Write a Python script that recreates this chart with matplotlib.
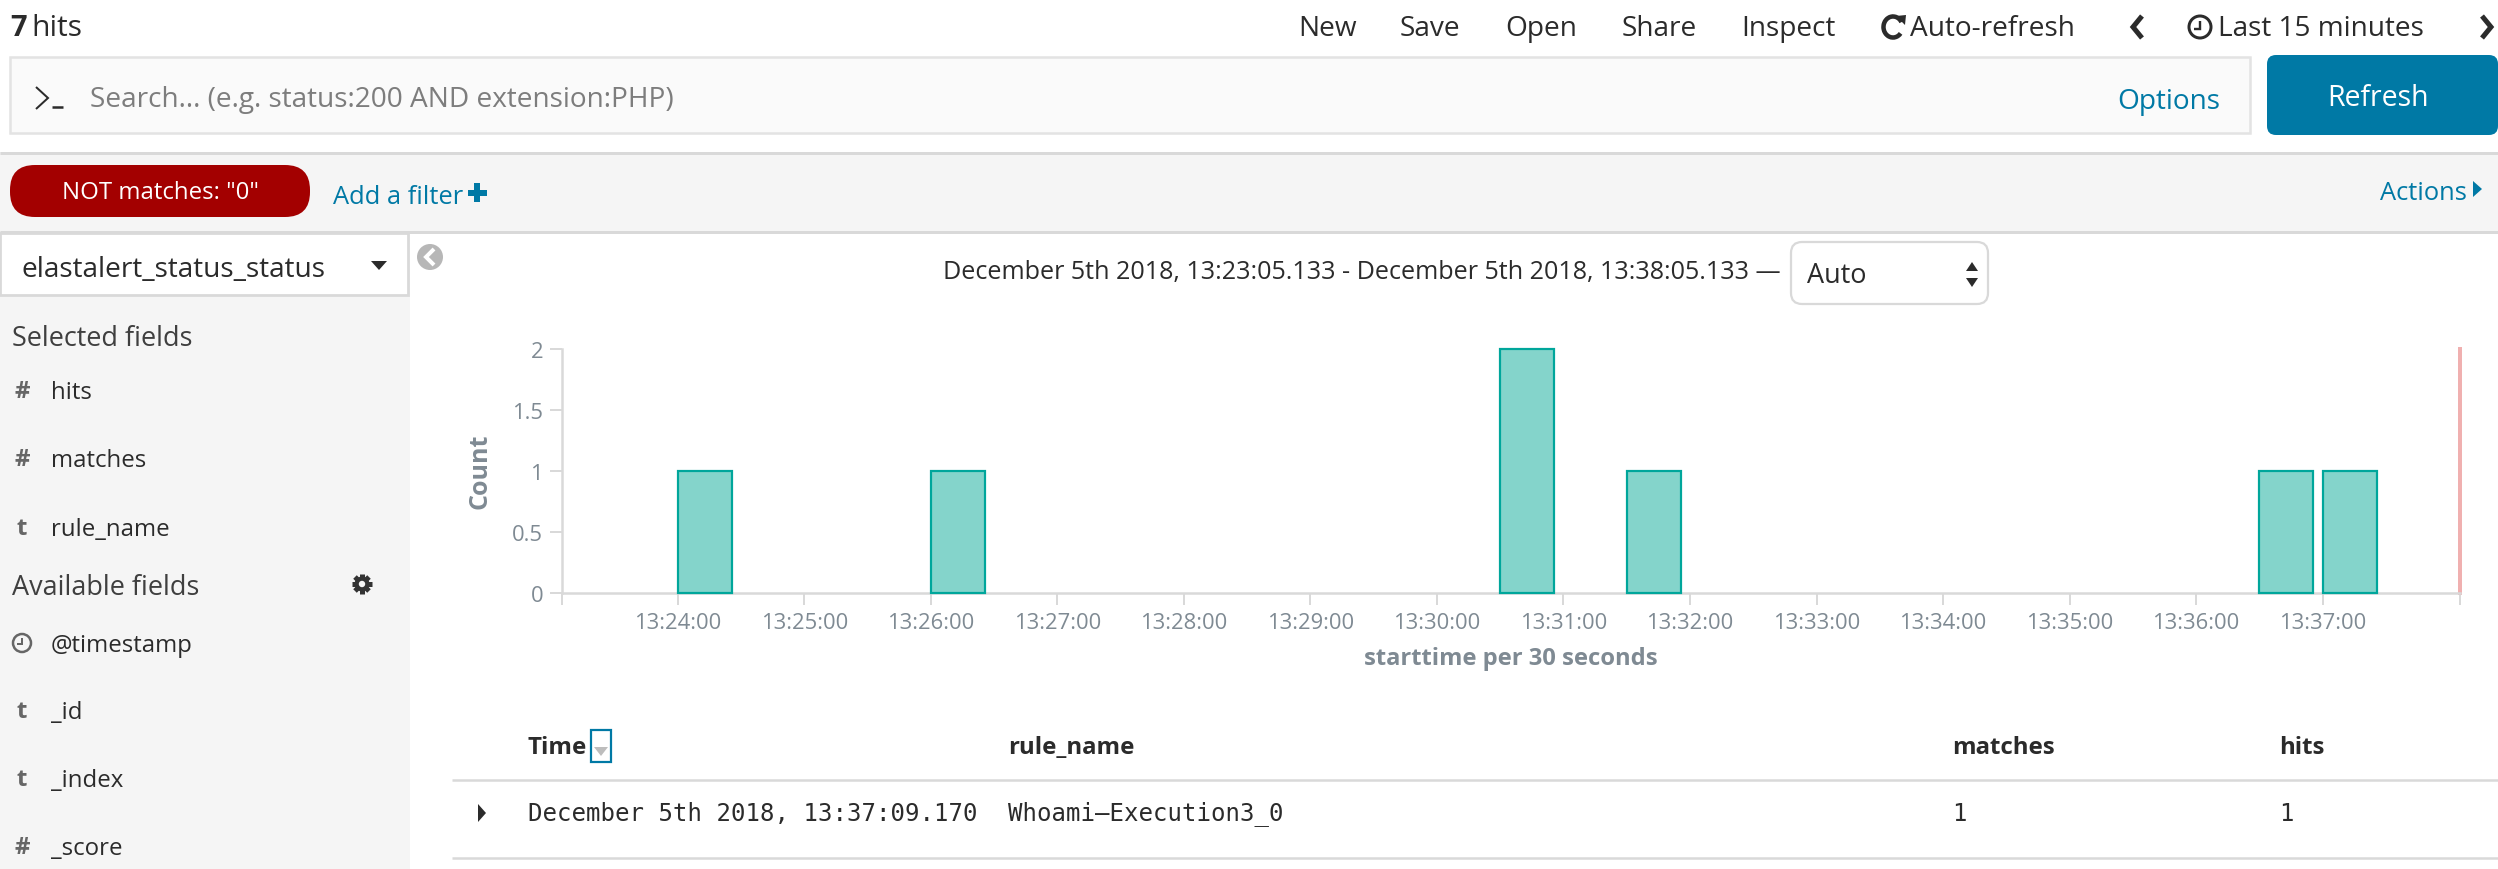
import datetime as dt
import matplotlib
matplotlib.use("Agg")
import matplotlib.pyplot as plt
import matplotlib.dates as mdates
from matplotlib.patches import FancyBboxPatch, Rectangle, Circle, Polygon, Arc
from matplotlib.ticker import FuncFormatter

W, H = 2498, 870
DAY = "2018-12-05 "
bucket_starts = ["13:24:00", "13:26:00", "13:30:30", "13:31:30", "13:36:30", "13:37:00"]
counts = [1, 1, 2, 1, 1, 1]
bar_seconds = 25.6
range_start = "13:23:05.133"
range_end = "13:38:05.133"
minute_ticks = ["13:24:00", "13:25:00", "13:26:00", "13:27:00", "13:28:00", "13:29:00", "13:30:00",
                "13:31:00", "13:32:00", "13:33:00", "13:34:00", "13:35:00", "13:36:00", "13:37:00"]
count_ticks = [0, 0.5, 1, 1.5, 2]
nav_items = ["New", "Save", "Open", "Share", "Inspect"]
selected_fields = ["hits", "matches", "rule_name"]
available_fields = ["@timestamp", "_id", "_index", "_score"]
table_columns = ["Time", "rule_name", "matches", "hits"]
table_row = ["December 5th 2018, 13:37:09.170", "Whoami\u2013Execution3_0", "1", "1"]

def px(v):
    return v * 72 / 100

def when(s):
    fmt = "%Y-%m-%d %H:%M:%S.%f" if "." in s else "%Y-%m-%d %H:%M:%S"
    return dt.datetime.strptime(DAY + s, fmt)

plt.rcParams["font.family"] = ["Open Sans", "DejaVu Sans"]
TEXT = "#2b2b2b"
BLUE = "#0079a5"
GREY = "#7f8a93"
LINE = "#d9d9d9"
MONO = ["DejaVu Sans Mono"]

fig = plt.figure(figsize=(W / 100, H / 100), dpi=100, facecolor="white")
ui = fig.add_axes([0, 0, 1, 1])
ui.set_xlim(0, W)
ui.set_ylim(H, 0)
ui.axis("off")

def t(x, y, s, size=28, color=TEXT, ha="left", weight="normal", family=None, **kw):
    return ui.text(x, y, s, fontsize=px(size), color=color, ha=ha, va="center", weight=weight,
                   family=family if family else plt.rcParams["font.family"], **kw)

def rect(x0, y0, x1, y1, fc, ec="none", lw=0, z=1):
    ui.add_patch(Rectangle((x0, y0), x1 - x0, y1 - y0, facecolor=fc, edgecolor=ec, linewidth=lw, zorder=z))

def round_box(x0, y0, x1, y1, r, fc, ec="none", lw=0, z=2):
    ui.add_patch(FancyBboxPatch((x0 + r, y0 + r), x1 - x0 - 2 * r, y1 - y0 - 2 * r,
                                boxstyle=f"round,pad={r},rounding_size={r}", facecolor=fc, edgecolor=ec,
                                linewidth=lw, zorder=z))

def seg(xs, ys, color, lw, z=3):
    ui.plot(xs, ys, color=color, lw=px(lw), zorder=z, solid_capstyle="butt", solid_joinstyle="miter")

def clock(cx, cy, r, color, lw=3):
    ui.add_patch(Circle((cx, cy), r, facecolor="none", edgecolor=color, linewidth=px(lw), zorder=4))
    seg([cx, cx, cx - r * 0.5], [cy - r * 0.55, cy + r * 0.15, cy + r * 0.15], color, lw * 0.8, z=4)

# top bar
t(10, 29, "7", weight="bold", size=29)
t(31, 29, "hits", size=30)
for x, s in zip([1298, 1400, 1505, 1622, 1741], nav_items):
    t(x, 29, s)
ui.add_patch(Arc((1893, 28), 19, 21, theta1=40, theta2=330, edgecolor=TEXT, linewidth=px(4.5), zorder=4))
ui.add_patch(Polygon([[1896, 17], [1906, 16], [1905, 26]], facecolor=TEXT, zorder=4))
t(1910, 29, "Auto-refresh")
seg([2142, 2133, 2142], [17, 28, 39], TEXT, 5)
clock(2200, 28, 11, TEXT)
t(2218, 29, "Last 15 minutes")
seg([2482, 2491, 2482], [17, 28, 39], TEXT, 5)

# search row
rect(10, 58, 2250, 134, "#fafafa", ec="#e3e3e3", lw=1.8)
seg([36, 48, 36], [88, 99, 110], TEXT, 2)
seg([52, 63], [108, 108], TEXT, 2.5)
t(90, 100, "Search... (e.g. status:200 AND extension:PHP)", color="#7d7d7d")
t(2117, 102, "Options", color=BLUE)
round_box(2267, 56, 2498, 136, 9, BLUE)
t(2378, 99, "Refresh", color="white", ha="center", weight="medium", size=28.5, zorder=5)

# filter row
rect(0, 153, W, 233, "#f5f5f5")
seg([0, W], [154, 154], LINE, 3)
seg([0, W], [233, 233], LINE, 3)
round_box(10, 166, 310, 218, 25, "#a30000")
t(160, 193, 'NOT matches: "0"', color="white", ha="center", size=24, zorder=5)
t(333, 197, "Add a filter", color=BLUE, size=25.5)
seg([477.5, 477.5], [184, 203], BLUE, 6)
seg([468, 487], [193.5, 193.5], BLUE, 6)
t(2380, 193, "Actions", color=BLUE, size=25.5)
ui.add_patch(Polygon([[2473, 182], [2482, 190], [2473, 198]], facecolor=BLUE, zorder=4))

# sidebar
rect(0, 233, 410, H, "#f5f5f5")
rect(0, 234, 408, 296, "white", ec=LINE, lw=2, z=2)
t(22, 270, "elastalert_status_status", size=28, zorder=5)
ui.add_patch(Polygon([[371, 262], [387, 262], [379, 271]], facecolor=TEXT, zorder=4))
ui.add_patch(Circle((430, 258), 13, facecolor="#b7b7b7", zorder=4))
seg([434, 426, 434], [250, 258, 266], "white", 4, z=5)

t(12, 339, "Selected fields", color="#3f3f3f", size=27)
t(12, 588, "Available fields", color="#3f3f3f", size=27)
seg([362, 362], [575, 595], "#333333", 5, z=4)
seg([352, 372], [585, 585], "#333333", 5, z=4)
seg([355, 369], [578, 592], "#333333", 5, z=4)
seg([355, 369], [592, 578], "#333333", 5, z=4)
ui.add_patch(Circle((362, 585), 7.5, facecolor="#333333", zorder=5))
ui.add_patch(Circle((362, 585), 3.2, facecolor="#f5f5f5", zorder=6))
sel_y = [391, 459, 528]
avail_y = [644, 711, 779, 847]
for y, s, ic in zip(sel_y, selected_fields, ["#", "#", "t"]):
    t(22, y + 1, ic, ha="center", color="#666666", weight="bold", size=24)
    t(51, y + 2, s, size=24)
for y, s, ic in zip(avail_y, available_fields, [None, "t", "t", "#"]):
    if ic:
        t(22, y + 1, ic, ha="center", color="#666666", weight="bold", size=24)
    else:
        clock(22, y, 9, "#666666", lw=2.5)
    t(51, y + 2, s, size=24)

# time header
t(943, 273, "December 5th 2018, 13:23:05.133 - December 5th 2018, 13:38:05.133 \u2014", size=25.1)
round_box(1791, 243, 1988, 305, 11, "white", ec=LINE, lw=1.6)
t(1807, 276, "Auto", size=27, zorder=5)
ui.add_patch(Polygon([[1966, 272], [1978, 272], [1972, 263]], facecolor=TEXT, zorder=4))
ui.add_patch(Polygon([[1966, 279], [1978, 279], [1972, 288]], facecolor=TEXT, zorder=4))

# histogram
L, R, T, B = 562, 2460, 349.5, 594
ax = fig.add_axes([L / W, 1 - B / H, (R - L) / W, (B - T) / H], facecolor="none", zorder=3)
xs = [when(s) for s in bucket_starts]
ax.bar(xs, counts, width=dt.timedelta(seconds=bar_seconds), align="edge",
       facecolor="#84d4cb", edgecolor="#00a69b", linewidth=px(2.2), zorder=3, clip_on=False)
x0, x1 = when(range_start), when(range_end)
ax.set_xlim(x0, x1)
ax.set_ylim(0, 2)
ax.axvline(x1, color="#f0b0b0", lw=px(4), zorder=2, clip_on=False)
for side in ["top", "right"]:
    ax.spines[side].set_visible(False)
for side in ["left", "bottom"]:
    ax.spines[side].set_color(LINE)
    ax.spines[side].set_linewidth(px(2.5))
ax.set_xticks([when(s) for s in minute_ticks])
ax.set_xticks([x0, x1], minor=True)
ax.xaxis.set_major_formatter(mdates.DateFormatter("%H:%M:%S"))
ax.set_yticks(count_ticks)
ax.yaxis.set_major_formatter(FuncFormatter(lambda v, _: f"{v:g}"))
ax.tick_params(axis="both", which="both", length=px(12), width=px(2), color=LINE, labelcolor=GREY,
               labelsize=px(22), pad=px(7))
ax.set_ylabel("Count", fontsize=px(25), color=GREY, weight="bold", labelpad=px(19))
ax.set_xlabel("starttime per 30 seconds", fontsize=px(23.8), color=GREY, weight="bold", labelpad=px(13))

# table
head_y, row_y = 748, 814
col_x = [528, 1008, 1952, 2279]
for x, s in zip(col_x, table_columns):
    t(x, head_y, s, weight="bold", size=24)
for x, s in zip(col_x, table_row):
    t(x, row_y, s, family=MONO, size=24)
rect(591, 731, 611, 763, "white", ec=BLUE, lw=1.6)
ui.add_patch(Polygon([[594, 748], [608, 748], [601, 757]], facecolor="#bdbdbd", zorder=4))
ui.add_patch(Polygon([[478, 805], [486, 814], [478, 823]], facecolor=TEXT, zorder=4))
seg([452, W], [781, 781], LINE, 2.5)
seg([452, W], [859, 859], LINE, 2.5)

fig.savefig("out.png", dpi=100, facecolor="white")
